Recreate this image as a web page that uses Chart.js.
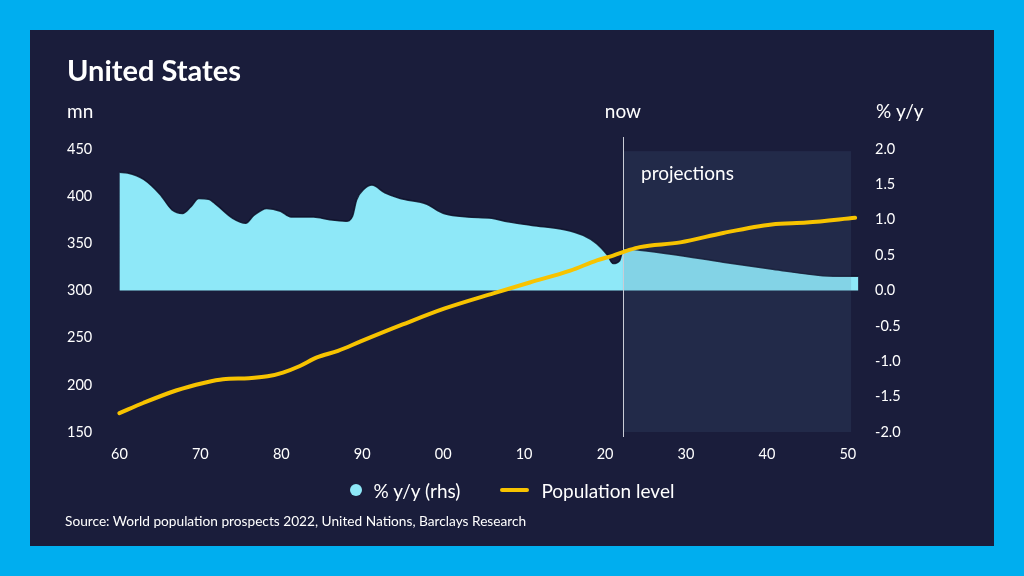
<!DOCTYPE html>
<html lang="en">
<head>
<meta charset="UTF-8">
<title>United States population</title>
<style>
  html, body { margin: 0; padding: 0; }
  body { width: 1024px; height: 576px; background: #00aeef; position: relative; overflow: hidden; font-family: Lato, sans-serif; color: #fff; }
  #panel { position: absolute; left: 30px; top: 30px; width: 964px; height: 516px; background: #1a1d3b; }
  #chart { position: absolute; left: 0; top: 0; }
  h1 { position: absolute; left: 67px; top: 54px; margin: 0; font-size: 29px; line-height: 32px; font-weight: 700; }
  #legend { position: absolute; left: 0; top: 478px; width: 1024px; height: 24px; display: flex; justify-content: center; align-items: center; gap: 40px; font-size: 19px; }
  #legend .item { display: flex; align-items: center; gap: 12px; }
  #legend .dot { width: 12px; height: 12px; border-radius: 50%; }
  #legend .bar { width: 29px; height: 4px; border-radius: 2px; }
  #source { position: absolute; left: 65px; top: 513px; font-size: 13.7px; line-height: 16px; }
</style>
</head>
<body>
<div id="panel"></div>
<canvas id="chart" width="1024" height="576"></canvas>
<h1>United States</h1>
<div id="legend"></div>
<div id="source">Source: World population prospects 2022, United Nations, Barclays Research</div>

<script src="https://cdn.jsdelivr.net/npm/chart.js@4.4.1/dist/chart.umd.min.js"></script>
<script>
// % y/y growth (right axis)
const growthYears = [1960, 1961, 1963, 1965, 1966.5, 1967.8, 1968.8, 1969.8, 1971, 1972, 1974, 1975.6, 1976.6, 1978.2, 1979.9, 1981.2, 1984, 1986, 1988, 1988.8, 1989.3, 1990.2, 1991.2, 1992.8, 1994.7, 1998, 1999.3, 2000.3, 2003, 2006, 2008, 2011, 2015, 2017.3, 2019, 2020.3, 2021, 2021.8, 2022.3, 2024.3, 2028.4, 2034.6, 2040.7, 2046.9, 2051.3];
const growthValues = [1.67, 1.66, 1.57, 1.36, 1.14, 1.09, 1.18, 1.30, 1.29, 1.21, 1.02, 0.95, 1.06, 1.16, 1.12, 1.04, 1.04, 1.00, 0.98, 1.05, 1.28, 1.43, 1.49, 1.38, 1.30, 1.22, 1.13, 1.08, 1.04, 1.02, 0.97, 0.92, 0.86, 0.78, 0.66, 0.50, 0.38, 0.42, 0.59, 0.57, 0.51, 0.40, 0.30, 0.21, 0.20];

// population level, mn (left axis)
const popYears = [1960, 1963, 1967, 1970.4, 1972.8, 1976, 1978.3, 1980.2, 1982.3, 1984.4, 1987, 1989.8, 1995, 2000.2, 2006.2, 2010.7, 2015.7, 2019, 2021, 2023, 2024.3, 2029.3, 2034.6, 2040.6, 2044.9, 2050.9];
const popValues = [170, 181, 194, 202, 206, 207, 209, 213, 220, 229, 236, 246, 264, 281, 297, 308.5, 321, 332, 337, 343, 346, 351, 361, 370, 372, 377];

const xTicks = [1960, 1970, 1980, 1990, 2000, 2010, 2020, 2030, 2040, 2050];
const nowYear = 2022.2;
const projEnd = 2050.4;

const growthLabel = '% y/y (rhs)';
const popLabel = 'Population level';
const growthColor = '#8ee8f8';
const popColor = '#f7c300';

const toPoints = (xs, ys) => xs.map((x, i) => ({ x: x, y: ys[i] }));

const overlay = {
  id: 'overlay',
  beforeDatasetDraw(chart, args) {
    if (args.index !== 0) return;
    const { ctx, chartArea, scales } = chart;
    const x0 = scales.x.getPixelForValue(nowYear);
    const x1 = scales.x.getPixelForValue(projEnd);
    const top = scales.y1.getPixelForValue(1.97);
    ctx.save();
    ctx.fillStyle = 'rgba(80,105,140,0.17)';
    ctx.fillRect(x0, top, x1 - x0, chartArea.bottom - top);
    ctx.strokeStyle = '#c9ccd6';
    ctx.lineWidth = 1;
    ctx.beginPath();
    ctx.moveTo(Math.round(x0) + 0.5, chartArea.top - 12);
    ctx.lineTo(Math.round(x0) + 0.5, chartArea.bottom + 5);
    ctx.stroke();
    ctx.restore();
  },
  afterDraw(chart) {
    const { ctx, scales } = chart;
    const x0 = scales.x.getPixelForValue(nowYear);
    ctx.save();
    ctx.fillStyle = '#fff';
    ctx.font = '19px Lato';
    ctx.textBaseline = 'middle';
    ctx.textAlign = 'left';
    ctx.fillText('mn', 67, 112);
    ctx.fillText('% y/y', 876, 112);
    ctx.fillText('projections', 641, 174);
    ctx.textAlign = 'center';
    ctx.fillText('now', x0, 112);
    ctx.restore();
  }
};

new Chart(document.getElementById('chart'), {
  type: 'line',
  data: {
    datasets: [
      {
        label: popLabel,
        data: toPoints(popYears, popValues),
        yAxisID: 'y',
        borderColor: popColor,
        borderWidth: 4,
        borderCapStyle: 'round',
        pointRadius: 0,
        fill: false,
        cubicInterpolationMode: 'monotone',
        order: 0
      },
      {
        label: growthLabel,
        data: toPoints(growthYears, growthValues),
        yAxisID: 'y1',
        backgroundColor: growthColor,
        borderColor: 'rgba(12,14,38,0.85)',
        borderWidth: 1.5,
        pointRadius: 0,
        fill: 'origin',
        cubicInterpolationMode: 'monotone',
        order: 1
      }
    ]
  },
  options: {
    responsive: false,
    animation: false,
    layout: { padding: { left: 67, right: 104, top: 149, bottom: 114 } },
    plugins: { legend: { display: false }, tooltip: { enabled: false } },
    scales: {
      x: {
        type: 'linear',
        min: 1959.7,
        max: 2051.5,
        grid: { display: false, drawTicks: false },
        border: { display: false },
        afterBuildTicks: s => { s.ticks = xTicks.map(v => ({ value: v })); },
        afterFit: s => { s.height = 30; },
        ticks: {
          color: '#fff',
          font: { family: 'Lato', size: 14.5 },
          padding: 14,
          maxRotation: 0,
          callback: v => String(v % 100).padStart(2, '0')
        }
      },
      y: {
        position: 'left',
        min: 150,
        max: 450,
        grid: { display: false, drawTicks: false },
        border: { display: false },
        afterFit: s => { s.width = 50; },
        ticks: { stepSize: 50, color: '#fff', font: { family: 'Lato', size: 14.5 }, crossAlign: 'far' }
      },
      y1: {
        position: 'right',
        min: -2,
        max: 2,
        grid: { display: false, drawTicks: false },
        border: { display: false },
        afterFit: s => { s.width = 60; },
        ticks: { stepSize: 0.5, color: '#fff', font: { family: 'Lato', size: 14.5 }, padding: 15, callback: v => v.toFixed(1) }
      }
    }
  },
  plugins: [overlay]
});

const legend = document.getElementById('legend');
legend.innerHTML =
  '<div class="item"><span class="dot" style="background:' + growthColor + '"></span>' + growthLabel + '</div>' +
  '<div class="item"><span class="bar" style="background:' + popColor + '"></span>' + popLabel + '</div>';
</script>
</body>
</html>
